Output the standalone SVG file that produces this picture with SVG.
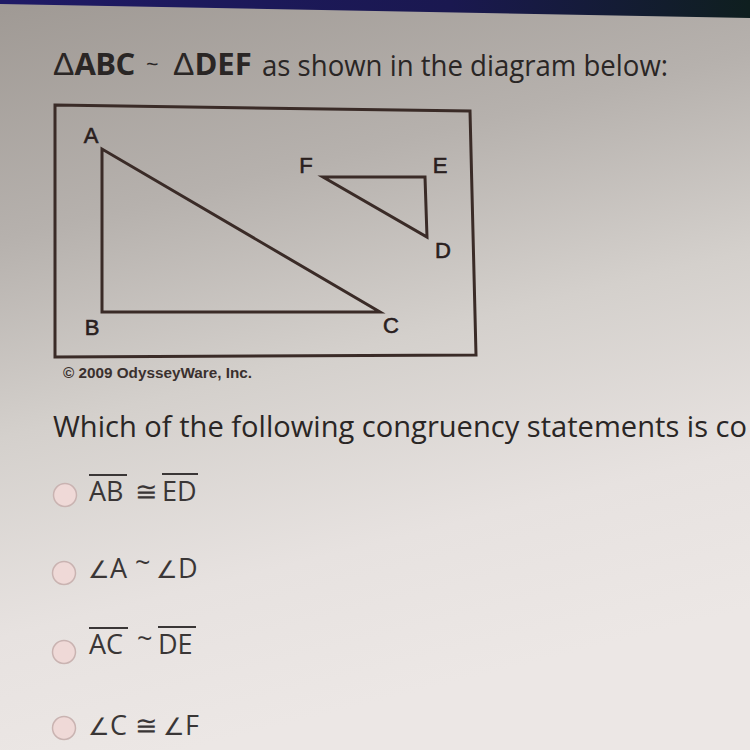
<svg xmlns="http://www.w3.org/2000/svg" width="750" height="750" viewBox="0 0 750 750">
<defs>
<linearGradient id="bg" x1="0" y1="0" x2="0.25" y2="1">
<stop offset="0" stop-color="#9f9994"/>
<stop offset="0.3" stop-color="#b6b1ad"/>
<stop offset="0.55" stop-color="#d4d0cc"/>
<stop offset="0.8" stop-color="#e7e2e0"/>
<stop offset="1" stop-color="#ece7e5"/>
</linearGradient>
<linearGradient id="band" x1="0" y1="0" x2="1" y2="0">
<stop offset="0" stop-color="#1f1a66"/>
<stop offset="0.6" stop-color="#1a1850"/>
<stop offset="1" stop-color="#0f1f1f"/>
</linearGradient>
<style>
.t{font-family:"Open Sans","Liberation Sans",sans-serif;fill:#2a2625}
.lbl{font-family:"Liberation Sans",Arial,sans-serif;font-size:22px;fill:#2a201e;stroke:#2a201e;stroke-width:0.6;text-anchor:middle}
.ln{fill:none;stroke:#3a2b27;stroke-width:3;stroke-linejoin:miter}
.opt{font-family:"Open Sans","Liberation Sans",sans-serif;font-size:27px;fill:#3a3636}
.ang{font-family:"Liberation Sans",sans-serif;font-size:24px}
.rad{fill:#efd9d7;stroke:#c9b3b1;stroke-width:1.5}
.ov{stroke:#3a3636;stroke-width:1.8}
</style>
</defs>
<rect width="750" height="750" fill="url(#bg)"/>
<polygon points="0,0 750,0 750,18 0,4" fill="url(#band)"/>

<g id="header">
<text class="t" x="53" y="75" font-size="31"><tspan font-family="Liberation Sans" font-size="32" font-weight="normal">Δ</tspan><tspan font-weight="bold" textLength="61">ABC</tspan></text>
<text class="t" x="146" y="72" font-size="22">~</text>
<text class="t" x="173" y="75" font-size="31"><tspan font-family="Liberation Sans" font-size="32" font-weight="normal">Δ</tspan><tspan font-weight="bold">DEF</tspan></text>
<text class="t" x="262" y="76" font-size="29" textLength="406" lengthAdjust="spacingAndGlyphs">as shown in the diagram below:</text>
</g>

<g id="figure">
<polygon class="ln" points="55,105 470,111 476,355 55,357" stroke-width="2.5"/>
<g id="triangle-ABC">
<polygon class="ln" points="102,149 102,312 380,312"/>
<text class="lbl" x="91" y="143">A</text>
<text class="lbl" x="92" y="335">B</text>
<text class="lbl" x="391" y="333">C</text>
</g>
<g id="triangle-DEF">
<polygon class="ln" points="323,177 425,177 427,237"/>
<text class="lbl" x="306" y="173">F</text>
<text class="lbl" x="440" y="173">E</text>
<text class="lbl" x="443" y="258">D</text>
</g>
</g>
<text x="63" y="378" font-family="Liberation Sans" font-weight="bold" font-size="14" fill="#3a302e" textLength="189" lengthAdjust="spacingAndGlyphs">© 2009 OdysseyWare, Inc.</text>

<text class="t" x="53" y="437" font-size="29" textLength="694" lengthAdjust="spacingAndGlyphs">Which of the following congruency statements is co</text>

<g id="option1">
<circle class="rad" cx="65" cy="495" r="11.5"/>
<text class="opt" x="89" y="501">AB</text>
<text class="opt" x="135" y="501">≅</text>
<text class="opt" x="162" y="501">ED</text>
<line class="ov" x1="89" y1="475" x2="127" y2="475"/>
<line class="ov" x1="162" y1="474" x2="198" y2="474"/>
</g>
<g id="option2">
<circle class="rad" cx="64" cy="573" r="11.5"/>
<text class="opt" x="88" y="578"><tspan class="ang">∠</tspan>A</text>
<text class="opt" x="135" y="572" font-size="17">~</text>
<text class="opt" x="156" y="578"><tspan class="ang">∠</tspan>D</text>
</g>
<g id="option3">
<circle class="rad" cx="64" cy="652" r="11.5"/>
<text class="opt" x="89" y="654">AC</text>
<text class="opt" x="137" y="648" font-size="17">~</text>
<text class="opt" x="158" y="654">DE</text>
<line class="ov" x1="89" y1="628" x2="128" y2="628"/>
<line class="ov" x1="158" y1="627" x2="196" y2="627"/>
</g>
<g id="option4">
<circle class="rad" cx="64" cy="728" r="11.5"/>
<text class="opt" x="88" y="735"><tspan class="ang">∠</tspan>C</text>
<text class="opt" x="135" y="735">≅</text>
<text class="opt" x="163" y="735"><tspan class="ang">∠</tspan>F</text>
</g>
</svg>
